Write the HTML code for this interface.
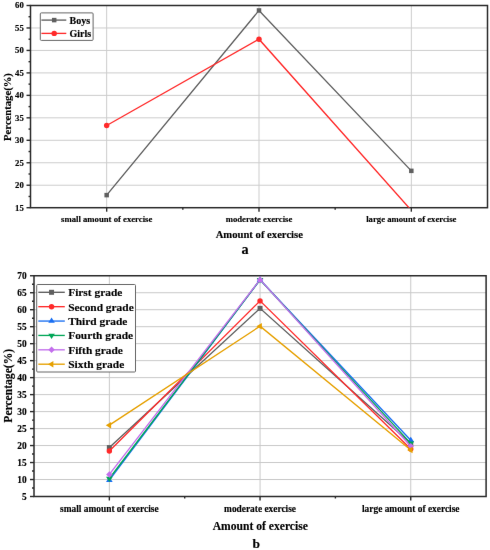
<!DOCTYPE html>
<html><head><meta charset="utf-8"><style>
html,body{margin:0;padding:0;background:#fff;width:490px;height:550px;overflow:hidden}
svg{display:block}
text{font-family:'Liberation Serif','Times New Roman',serif;font-weight:bold;fill:#000;stroke:#000;stroke-width:0.15px}
</style></head><body>
<svg width="490" height="550" viewBox="0 0 490 550">
<defs><filter id="soft" x="0" y="0" width="490" height="550" filterUnits="userSpaceOnUse" color-interpolation-filters="sRGB"><feConvolveMatrix order="3" kernelMatrix="0.00163 0.03713 0.00163 0.03713 0.84497 0.03713 0.00163 0.03713 0.00163" divisor="1" edgeMode="duplicate"/></filter></defs>
<g filter="url(#soft)">
<rect width="490" height="550" fill="#fff"/>
<clipPath id="ca"><rect x="30.5" y="5.5" width="457.0" height="202.2"/></clipPath>
<line x1="30.5" x2="487.5" y1="185.23" y2="185.23" stroke="#cdcdcd" stroke-width="1"/>
<line x1="30.5" x2="487.5" y1="162.77" y2="162.77" stroke="#cdcdcd" stroke-width="1"/>
<line x1="30.5" x2="487.5" y1="140.30" y2="140.30" stroke="#cdcdcd" stroke-width="1"/>
<line x1="30.5" x2="487.5" y1="117.83" y2="117.83" stroke="#cdcdcd" stroke-width="1"/>
<line x1="30.5" x2="487.5" y1="95.37" y2="95.37" stroke="#cdcdcd" stroke-width="1"/>
<line x1="30.5" x2="487.5" y1="72.90" y2="72.90" stroke="#cdcdcd" stroke-width="1"/>
<line x1="30.5" x2="487.5" y1="50.43" y2="50.43" stroke="#cdcdcd" stroke-width="1"/>
<line x1="30.5" x2="487.5" y1="27.97" y2="27.97" stroke="#cdcdcd" stroke-width="1"/>
<line x1="106.67" x2="106.67" y1="5.5" y2="207.7" stroke="#cdcdcd" stroke-width="1"/>
<line x1="259.00" x2="259.00" y1="5.5" y2="207.7" stroke="#cdcdcd" stroke-width="1"/>
<line x1="411.33" x2="411.33" y1="5.5" y2="207.7" stroke="#cdcdcd" stroke-width="1"/>
<line x1="26.50" x2="30.5" y1="207.70" y2="207.70" stroke="#2a2a2a" stroke-width="1.4"/>
<text x="23.8" y="210.50" text-anchor="end" font-size="8.7">15</text>
<line x1="28.50" x2="30.5" y1="196.47" y2="196.47" stroke="#2a2a2a" stroke-width="1.4"/>
<line x1="26.50" x2="30.5" y1="185.23" y2="185.23" stroke="#2a2a2a" stroke-width="1.4"/>
<text x="23.8" y="188.03" text-anchor="end" font-size="8.7">20</text>
<line x1="28.50" x2="30.5" y1="174.00" y2="174.00" stroke="#2a2a2a" stroke-width="1.4"/>
<line x1="26.50" x2="30.5" y1="162.77" y2="162.77" stroke="#2a2a2a" stroke-width="1.4"/>
<text x="23.8" y="165.57" text-anchor="end" font-size="8.7">25</text>
<line x1="28.50" x2="30.5" y1="151.53" y2="151.53" stroke="#2a2a2a" stroke-width="1.4"/>
<line x1="26.50" x2="30.5" y1="140.30" y2="140.30" stroke="#2a2a2a" stroke-width="1.4"/>
<text x="23.8" y="143.10" text-anchor="end" font-size="8.7">30</text>
<line x1="28.50" x2="30.5" y1="129.07" y2="129.07" stroke="#2a2a2a" stroke-width="1.4"/>
<line x1="26.50" x2="30.5" y1="117.83" y2="117.83" stroke="#2a2a2a" stroke-width="1.4"/>
<text x="23.8" y="120.63" text-anchor="end" font-size="8.7">35</text>
<line x1="28.50" x2="30.5" y1="106.60" y2="106.60" stroke="#2a2a2a" stroke-width="1.4"/>
<line x1="26.50" x2="30.5" y1="95.37" y2="95.37" stroke="#2a2a2a" stroke-width="1.4"/>
<text x="23.8" y="98.17" text-anchor="end" font-size="8.7">40</text>
<line x1="28.50" x2="30.5" y1="84.13" y2="84.13" stroke="#2a2a2a" stroke-width="1.4"/>
<line x1="26.50" x2="30.5" y1="72.90" y2="72.90" stroke="#2a2a2a" stroke-width="1.4"/>
<text x="23.8" y="75.70" text-anchor="end" font-size="8.7">45</text>
<line x1="28.50" x2="30.5" y1="61.67" y2="61.67" stroke="#2a2a2a" stroke-width="1.4"/>
<line x1="26.50" x2="30.5" y1="50.43" y2="50.43" stroke="#2a2a2a" stroke-width="1.4"/>
<text x="23.8" y="53.23" text-anchor="end" font-size="8.7">50</text>
<line x1="28.50" x2="30.5" y1="39.20" y2="39.20" stroke="#2a2a2a" stroke-width="1.4"/>
<line x1="26.50" x2="30.5" y1="27.97" y2="27.97" stroke="#2a2a2a" stroke-width="1.4"/>
<text x="23.8" y="30.77" text-anchor="end" font-size="8.7">55</text>
<line x1="28.50" x2="30.5" y1="16.73" y2="16.73" stroke="#2a2a2a" stroke-width="1.4"/>
<line x1="26.50" x2="30.5" y1="5.50" y2="5.50" stroke="#2a2a2a" stroke-width="1.4"/>
<text x="23.8" y="8.30" text-anchor="end" font-size="8.7">60</text>
<line x1="106.67" x2="106.67" y1="207.7" y2="211.7" stroke="#2a2a2a" stroke-width="1.4"/>
<line x1="259.00" x2="259.00" y1="207.7" y2="211.7" stroke="#2a2a2a" stroke-width="1.4"/>
<line x1="411.33" x2="411.33" y1="207.7" y2="211.7" stroke="#2a2a2a" stroke-width="1.4"/>
<line x1="182.83" x2="182.83" y1="207.7" y2="209.7" stroke="#2a2a2a" stroke-width="1.4"/>
<line x1="335.17" x2="335.17" y1="207.7" y2="209.7" stroke="#2a2a2a" stroke-width="1.4"/>
<text x="106.67" y="221.5" text-anchor="middle" font-size="8.7">small amount of exercise</text>
<text x="259.00" y="221.5" text-anchor="middle" font-size="8.7">moderate exercise</text>
<text x="411.33" y="221.5" text-anchor="middle" font-size="8.7">large amount of exercise</text>
<rect x="30.5" y="5.5" width="457.0" height="202.2" fill="none" stroke="#2a2a2a" stroke-width="1.5"/>
<polyline points="106.67,195.12 259.00,10.44 411.33,170.85" fill="none" stroke="#5f5f5f" stroke-width="1.35" clip-path="url(#ca)"/>
<rect x="104.42" y="192.87" width="4.5" height="4.5" fill="#5f5f5f"/>
<rect x="256.75" y="8.19" width="4.5" height="4.5" fill="#5f5f5f"/>
<rect x="409.08" y="168.60" width="4.5" height="4.5" fill="#5f5f5f"/>
<polyline points="106.67,125.47 259.00,39.20 411.33,210.40" fill="none" stroke="#ff2a2a" stroke-width="1.35" clip-path="url(#ca)"/>
<circle cx="106.67" cy="125.47" r="2.72" fill="#ff2a2a"/>
<circle cx="259.00" cy="39.20" r="2.72" fill="#ff2a2a"/>
<text x="259.3" y="237.9" text-anchor="middle" font-size="10.65">Amount of exercise</text>
<text transform="translate(10.9,107) rotate(-90)" text-anchor="middle" font-size="10.65">Percentage(%)</text>
<text x="245" y="253.5" text-anchor="middle" font-size="14.2">a</text>
<rect x="40.3" y="12.9" width="52.8" height="27.5" rx="1" fill="#fff" stroke="#666" stroke-width="1"/>
<line x1="41.4" x2="66.3" y1="20.10" y2="20.10" stroke="#5f5f5f" stroke-width="1.35"/>
<rect x="51.95" y="17.85" width="4.5" height="4.5" fill="#5f5f5f"/>
<text x="69.5" y="23.80" font-size="10">Boys</text>
<line x1="41.4" x2="66.3" y1="33.40" y2="33.40" stroke="#ff2a2a" stroke-width="1.35"/>
<circle cx="54.20" cy="33.40" r="2.72" fill="#ff2a2a"/>
<text x="69.5" y="37.10" font-size="10">Girls</text>
<clipPath id="cb"><rect x="34" y="275.75" width="452.1" height="220.75"/></clipPath>
<line x1="34" x2="486.1" y1="479.52" y2="479.52" stroke="#c9c9c9" stroke-width="1"/>
<line x1="34" x2="486.1" y1="462.54" y2="462.54" stroke="#c9c9c9" stroke-width="1"/>
<line x1="34" x2="486.1" y1="445.56" y2="445.56" stroke="#c9c9c9" stroke-width="1"/>
<line x1="34" x2="486.1" y1="428.58" y2="428.58" stroke="#c9c9c9" stroke-width="1"/>
<line x1="34" x2="486.1" y1="411.60" y2="411.60" stroke="#c9c9c9" stroke-width="1"/>
<line x1="34" x2="486.1" y1="394.62" y2="394.62" stroke="#c9c9c9" stroke-width="1"/>
<line x1="34" x2="486.1" y1="377.63" y2="377.63" stroke="#c9c9c9" stroke-width="1"/>
<line x1="34" x2="486.1" y1="360.65" y2="360.65" stroke="#c9c9c9" stroke-width="1"/>
<line x1="34" x2="486.1" y1="343.67" y2="343.67" stroke="#c9c9c9" stroke-width="1"/>
<line x1="34" x2="486.1" y1="326.69" y2="326.69" stroke="#c9c9c9" stroke-width="1"/>
<line x1="34" x2="486.1" y1="309.71" y2="309.71" stroke="#c9c9c9" stroke-width="1"/>
<line x1="34" x2="486.1" y1="292.73" y2="292.73" stroke="#c9c9c9" stroke-width="1"/>
<line x1="109.35" x2="109.35" y1="275.75" y2="496.5" stroke="#c9c9c9" stroke-width="1"/>
<line x1="260.05" x2="260.05" y1="275.75" y2="496.5" stroke="#c9c9c9" stroke-width="1"/>
<line x1="410.75" x2="410.75" y1="275.75" y2="496.5" stroke="#c9c9c9" stroke-width="1"/>
<line x1="30.00" x2="34" y1="496.50" y2="496.50" stroke="#2a2a2a" stroke-width="1.4"/>
<text x="26.6" y="499.80" text-anchor="end" font-size="9.4">5</text>
<line x1="32.00" x2="34" y1="488.01" y2="488.01" stroke="#2a2a2a" stroke-width="1.4"/>
<line x1="30.00" x2="34" y1="479.52" y2="479.52" stroke="#2a2a2a" stroke-width="1.4"/>
<text x="26.6" y="482.82" text-anchor="end" font-size="9.4">10</text>
<line x1="32.00" x2="34" y1="471.03" y2="471.03" stroke="#2a2a2a" stroke-width="1.4"/>
<line x1="30.00" x2="34" y1="462.54" y2="462.54" stroke="#2a2a2a" stroke-width="1.4"/>
<text x="26.6" y="465.84" text-anchor="end" font-size="9.4">15</text>
<line x1="32.00" x2="34" y1="454.05" y2="454.05" stroke="#2a2a2a" stroke-width="1.4"/>
<line x1="30.00" x2="34" y1="445.56" y2="445.56" stroke="#2a2a2a" stroke-width="1.4"/>
<text x="26.6" y="448.86" text-anchor="end" font-size="9.4">20</text>
<line x1="32.00" x2="34" y1="437.07" y2="437.07" stroke="#2a2a2a" stroke-width="1.4"/>
<line x1="30.00" x2="34" y1="428.58" y2="428.58" stroke="#2a2a2a" stroke-width="1.4"/>
<text x="26.6" y="431.88" text-anchor="end" font-size="9.4">25</text>
<line x1="32.00" x2="34" y1="420.09" y2="420.09" stroke="#2a2a2a" stroke-width="1.4"/>
<line x1="30.00" x2="34" y1="411.60" y2="411.60" stroke="#2a2a2a" stroke-width="1.4"/>
<text x="26.6" y="414.90" text-anchor="end" font-size="9.4">30</text>
<line x1="32.00" x2="34" y1="403.11" y2="403.11" stroke="#2a2a2a" stroke-width="1.4"/>
<line x1="30.00" x2="34" y1="394.62" y2="394.62" stroke="#2a2a2a" stroke-width="1.4"/>
<text x="26.6" y="397.92" text-anchor="end" font-size="9.4">35</text>
<line x1="32.00" x2="34" y1="386.12" y2="386.12" stroke="#2a2a2a" stroke-width="1.4"/>
<line x1="30.00" x2="34" y1="377.63" y2="377.63" stroke="#2a2a2a" stroke-width="1.4"/>
<text x="26.6" y="380.93" text-anchor="end" font-size="9.4">40</text>
<line x1="32.00" x2="34" y1="369.14" y2="369.14" stroke="#2a2a2a" stroke-width="1.4"/>
<line x1="30.00" x2="34" y1="360.65" y2="360.65" stroke="#2a2a2a" stroke-width="1.4"/>
<text x="26.6" y="363.95" text-anchor="end" font-size="9.4">45</text>
<line x1="32.00" x2="34" y1="352.16" y2="352.16" stroke="#2a2a2a" stroke-width="1.4"/>
<line x1="30.00" x2="34" y1="343.67" y2="343.67" stroke="#2a2a2a" stroke-width="1.4"/>
<text x="26.6" y="346.97" text-anchor="end" font-size="9.4">50</text>
<line x1="32.00" x2="34" y1="335.18" y2="335.18" stroke="#2a2a2a" stroke-width="1.4"/>
<line x1="30.00" x2="34" y1="326.69" y2="326.69" stroke="#2a2a2a" stroke-width="1.4"/>
<text x="26.6" y="329.99" text-anchor="end" font-size="9.4">55</text>
<line x1="32.00" x2="34" y1="318.20" y2="318.20" stroke="#2a2a2a" stroke-width="1.4"/>
<line x1="30.00" x2="34" y1="309.71" y2="309.71" stroke="#2a2a2a" stroke-width="1.4"/>
<text x="26.6" y="313.01" text-anchor="end" font-size="9.4">60</text>
<line x1="32.00" x2="34" y1="301.22" y2="301.22" stroke="#2a2a2a" stroke-width="1.4"/>
<line x1="30.00" x2="34" y1="292.73" y2="292.73" stroke="#2a2a2a" stroke-width="1.4"/>
<text x="26.6" y="296.03" text-anchor="end" font-size="9.4">65</text>
<line x1="32.00" x2="34" y1="284.24" y2="284.24" stroke="#2a2a2a" stroke-width="1.4"/>
<line x1="30.00" x2="34" y1="275.75" y2="275.75" stroke="#2a2a2a" stroke-width="1.4"/>
<text x="26.6" y="279.05" text-anchor="end" font-size="9.4">70</text>
<line x1="109.35" x2="109.35" y1="496.5" y2="500.5" stroke="#2a2a2a" stroke-width="1.4"/>
<line x1="260.05" x2="260.05" y1="496.5" y2="500.5" stroke="#2a2a2a" stroke-width="1.4"/>
<line x1="410.75" x2="410.75" y1="496.5" y2="500.5" stroke="#2a2a2a" stroke-width="1.4"/>
<line x1="184.70" x2="184.70" y1="496.5" y2="498.5" stroke="#2a2a2a" stroke-width="1.4"/>
<line x1="335.40" x2="335.40" y1="496.5" y2="498.5" stroke="#2a2a2a" stroke-width="1.4"/>
<text x="109.35" y="511.7" text-anchor="middle" font-size="9.4">small amount of exercise</text>
<text x="260.05" y="511.7" text-anchor="middle" font-size="9.4">moderate exercise</text>
<text x="410.75" y="511.7" text-anchor="middle" font-size="9.4">large amount of exercise</text>
<rect x="34" y="275.75" width="452.1" height="220.75" fill="none" stroke="#2a2a2a" stroke-width="1.5"/>
<polyline points="109.35,447.60 260.05,308.35 410.75,443.52" fill="none" stroke="#5f5f5f" stroke-width="1.35" clip-path="url(#cb)"/>
<rect x="106.85" y="445.10" width="5" height="5" fill="#5f5f5f"/>
<rect x="257.55" y="305.85" width="5" height="5" fill="#5f5f5f"/>
<rect x="408.25" y="441.02" width="5" height="5" fill="#5f5f5f"/>
<polyline points="109.35,450.99 260.05,300.88 410.75,448.95" fill="none" stroke="#ff2a2a" stroke-width="1.35" clip-path="url(#cb)"/>
<circle cx="109.35" cy="450.99" r="2.72" fill="#ff2a2a"/>
<circle cx="260.05" cy="300.88" r="2.72" fill="#ff2a2a"/>
<circle cx="410.75" cy="448.95" r="2.72" fill="#ff2a2a"/>
<polyline points="109.35,480.20 260.05,279.83 410.75,440.29" fill="none" stroke="#1a6ff2" stroke-width="1.35" clip-path="url(#cb)"/>
<polygon points="109.35,476.60 112.65,482.00 106.05,482.00" fill="#1a6ff2"/>
<polygon points="260.05,276.23 263.35,281.63 256.75,281.63" fill="#1a6ff2"/>
<polygon points="410.75,436.69 414.05,442.09 407.45,442.09" fill="#1a6ff2"/>
<polyline points="109.35,478.50 260.05,279.83 410.75,443.35" fill="none" stroke="#00a657" stroke-width="1.35" clip-path="url(#cb)"/>
<polygon points="109.35,482.10 112.65,476.70 106.05,476.70" fill="#00a657"/>
<polygon points="260.05,283.43 263.35,278.03 256.75,278.03" fill="#00a657"/>
<polygon points="410.75,446.95 414.05,441.55 407.45,441.55" fill="#00a657"/>
<polyline points="109.35,474.43 260.05,279.66 410.75,446.24" fill="none" stroke="#c36fec" stroke-width="1.35" clip-path="url(#cb)"/>
<polygon points="109.35,471.18 112.60,474.43 109.35,477.68 106.10,474.43" fill="#c36fec"/>
<polygon points="260.05,276.41 263.30,279.66 260.05,282.91 256.80,279.66" fill="#c36fec"/>
<polygon points="410.75,442.99 414.00,446.24 410.75,449.49 407.50,446.24" fill="#c36fec"/>
<polyline points="109.35,425.18 260.05,326.18 410.75,449.97" fill="none" stroke="#e6a000" stroke-width="1.35" clip-path="url(#cb)"/>
<polygon points="105.75,425.18 111.15,421.88 111.15,428.48" fill="#e6a000"/>
<polygon points="256.45,326.18 261.85,322.88 261.85,329.48" fill="#e6a000"/>
<polygon points="407.15,449.97 412.55,446.67 412.55,453.27" fill="#e6a000"/>
<text x="260.3" y="529.6" text-anchor="middle" font-size="11.6">Amount of exercise</text>
<text transform="translate(11.7,385.8) rotate(-90)" text-anchor="middle" font-size="11.6">Percentage(%)</text>
<text x="256.2" y="548" text-anchor="middle" font-size="13.5">b</text>
<rect x="36.7" y="284.5" width="98.8" height="87.5" rx="1" fill="#fff" stroke="#666" stroke-width="1"/>
<line x1="38.3" x2="64.8" y1="292.30" y2="292.30" stroke="#5f5f5f" stroke-width="1.35"/>
<rect x="49.05" y="289.80" width="5" height="5" fill="#5f5f5f"/>
<text x="68.2" y="296.30" font-size="11.4">First grade</text>
<line x1="38.3" x2="64.8" y1="306.68" y2="306.68" stroke="#ff2a2a" stroke-width="1.35"/>
<circle cx="51.55" cy="306.68" r="2.72" fill="#ff2a2a"/>
<text x="68.2" y="310.68" font-size="11.4">Second grade</text>
<line x1="38.3" x2="64.8" y1="321.06" y2="321.06" stroke="#1a6ff2" stroke-width="1.35"/>
<polygon points="51.55,317.46 54.85,322.86 48.25,322.86" fill="#1a6ff2"/>
<text x="68.2" y="325.06" font-size="11.4">Third grade</text>
<line x1="38.3" x2="64.8" y1="335.44" y2="335.44" stroke="#00a657" stroke-width="1.35"/>
<polygon points="51.55,339.04 54.85,333.64 48.25,333.64" fill="#00a657"/>
<text x="68.2" y="339.44" font-size="11.4">Fourth grade</text>
<line x1="38.3" x2="64.8" y1="349.82" y2="349.82" stroke="#c36fec" stroke-width="1.35"/>
<polygon points="51.55,346.57 54.80,349.82 51.55,353.07 48.30,349.82" fill="#c36fec"/>
<text x="68.2" y="353.82" font-size="11.4">Fifth grade</text>
<line x1="38.3" x2="64.8" y1="364.20" y2="364.20" stroke="#e6a000" stroke-width="1.35"/>
<polygon points="47.95,364.20 53.35,360.90 53.35,367.50" fill="#e6a000"/>
<text x="68.2" y="368.20" font-size="11.4">Sixth grade</text>
</g>
</svg>
</body></html>
